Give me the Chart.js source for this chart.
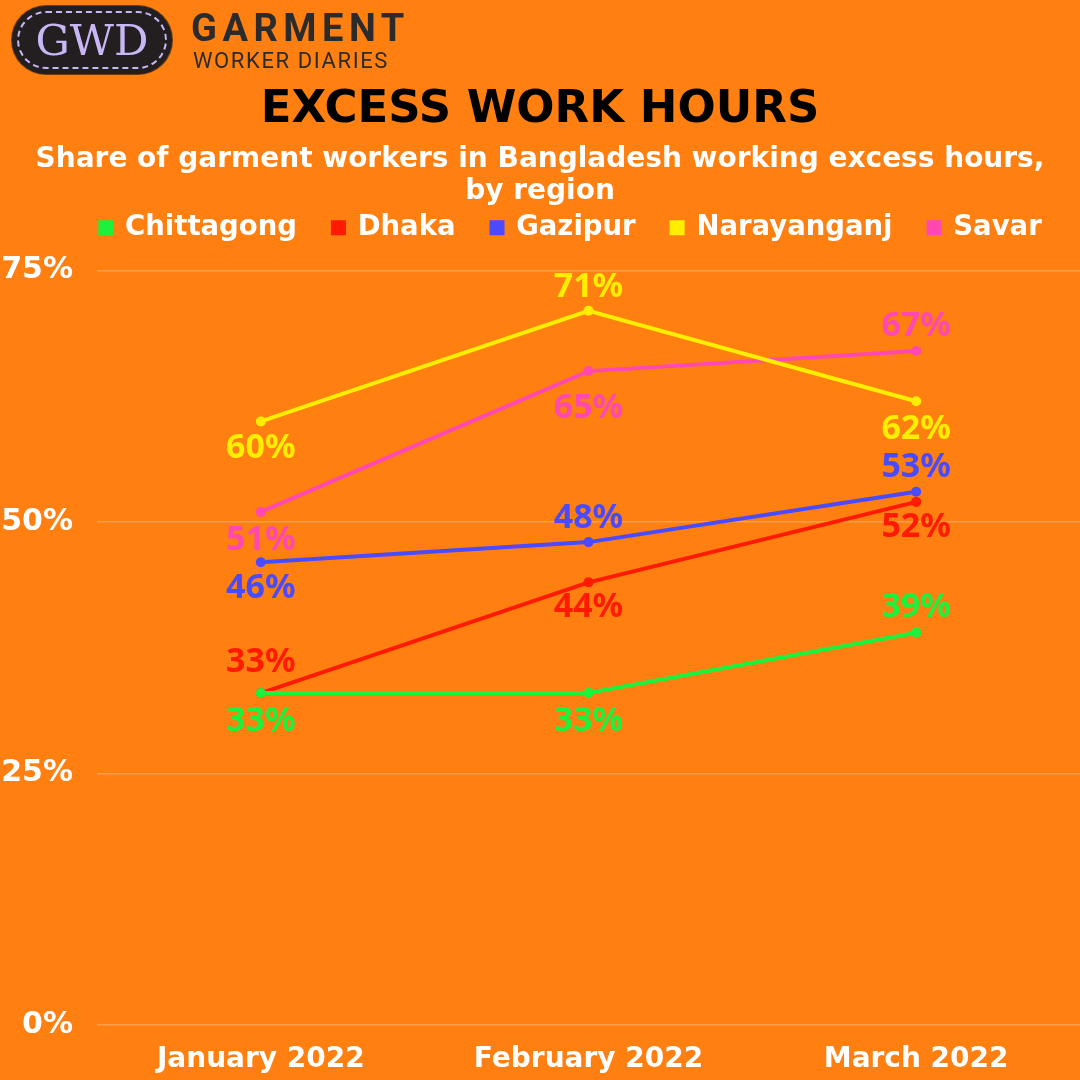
<!DOCTYPE html>
<html>
<head>
<meta charset="utf-8">
<script src="https://cdn.jsdelivr.net/npm/chart.js@4.4.1/dist/chart.umd.min.js"></script>
<style>
  html, body { margin: 0; padding: 0; background: #ff7f11; }
  #wrap { position: relative; width: 1080px; height: 1080px; overflow: hidden; background: #ff7f11; }
  #c { position: absolute; left: 0; top: 0; }
  .pill { position: absolute; left: 12px; top: 6px; width: 160px; height: 68px; border-radius: 34px;
          background: #231f20; box-shadow: 0 0 0 1px #6b3a10; }
  .pill .stitch { position: absolute; left: 5px; top: 5px; right: 5px; bottom: 5px; border-radius: 29px;
          border: 2px dashed #c9b6f5; }
  .pill .gwd { position: absolute; left: 0; right: 0; top: 0; line-height: 68px; text-align: center;
          font-family: "DejaVu Serif", serif; font-size: 43px; color: #c9b6f5; }
  .brand1 { position: absolute; left: 191px; top: 4px; font-family: Roboto, sans-serif; font-weight: 700;
          font-size: 38px; letter-spacing: 5.5px; color: #2b2b2b; line-height: 48px; }
  .brand2 { position: absolute; left: 193px; top: 47px; font-family: Roboto, sans-serif; font-weight: 400;
          font-size: 22px; letter-spacing: 1.6px; color: #2b2b2b; line-height: 28px; }
  .title { position: absolute; left: 0; width: 1080px; top: 80px; line-height: 54px; text-align: center;
          font-family: "DejaVu Sans", sans-serif; font-weight: 700; font-size: 45px; color: #000; }
  .subtitle { position: absolute; left: 0; width: 1080px; top: 142px; line-height: 32px; text-align: center;
          font-family: "DejaVu Sans", sans-serif; font-weight: 700; font-size: 28px; color: #fff; }
</style>
</head>
<body>
<div id="wrap">
  <canvas id="c" width="1080" height="1080"></canvas>
  <div class="pill"><div class="stitch"></div><div class="gwd">GWD</div></div>
  <div class="brand1">GARMENT</div>
  <div class="brand2">WORKER DIARIES</div>
  <div class="title">EXCESS WORK HOURS</div>
  <div class="subtitle">Share of garment workers in Bangladesh working excess hours,<br>by region</div>
</div>
<script>
// data
const months = ['January 2022', 'February 2022', 'March 2022'];
const regions = ['Chittagong', 'Dhaka', 'Gazipur', 'Narayanganj', 'Savar'];
const chittagong = [33, 33, 39];
const dhaka = [33, 44, 52];
const gazipur = [46, 48, 53];
const narayanganj = [60, 71, 62];
const savar = [51, 65, 67];
const yTicks = [0, 25, 50, 75];

// styling
const colors = ['#1ef03c', '#ff1a00', '#4a4aff', '#ffee00', '#ff48b0'];
// label offset from its point, px (negative = above)
const labelOffsets = [
    [28, 28, -25],
    [-31, 25, 25],
    [26, -24, -25],
    [27, -23, 28],
    [28, 37, -25]
];

const series = [chittagong, dhaka, gazipur, narayanganj, savar];

const pointLabels = {
    id: 'pointLabels',
    afterDatasetsDraw(chart) {
        const ctx = chart.ctx;
        ctx.save();
        ctx.font = "bold 34px 'Noto Sans'";
        ctx.textAlign = 'center';
        ctx.textBaseline = 'middle';
        chart.data.datasets.forEach((ds, di) => {
            const meta = chart.getDatasetMeta(di);
            meta.data.forEach((pt, i) => {
                ctx.fillStyle = ds.borderColor;
                ctx.fillText(ds.data[i] + '%', pt.x, pt.y + labelOffsets[di][i]);
            });
        });
        ctx.restore();
    }
};

// leave room between legend and plot, and nudge the legend right
const legendTweak = {
    id: 'legendTweak',
    afterInit(chart) {
        const lg = chart.legend;
        const fit = lg.fit.bind(lg);
        lg.fit = function () { fit(); this.height += 19; };
        const draw = lg.draw.bind(lg);
        lg.draw = function () {
            const c = this.ctx;
            c.save();
            c.translate(31, 0);
            draw();
            c.restore();
        };
    }
};

new Chart(document.getElementById('c'), {
    type: 'line',
    data: {
        labels: months,
        datasets: regions.map((r, i) => ({
            label: r,
            data: series[i],
            borderColor: colors[i],
            backgroundColor: colors[i],
            pointBackgroundColor: colors[i],
            pointBorderWidth: 0,
            borderWidth: 4,
            pointRadius: 5,
            tension: 0
        }))
    },
    options: {
        responsive: false,
        animation: false,
        layout: { autoPadding: false, padding: { top: 178, left: 0, right: 0, bottom: 0 } },
        plugins: {
            tooltip: { enabled: false },
            legend: {
                display: true,
                position: 'top',
                labels: {
                    color: '#fff',
                    boxWidth: 11,
                    boxHeight: 11,
                    padding: 36,
                    font: { family: 'DejaVu Sans', weight: 'bold', size: 27.5 }
                }
            }
        },
        scales: {
            x: {
                offset: true,
                grid: { display: false, drawTicks: false },
                border: { display: false },
                ticks: {
                    color: '#fff',
                    padding: 18,
                    font: { family: 'DejaVu Sans', weight: 'bold', size: 28 }
                },
                afterFit(scale) {
                    scale.height = 55;
                    scale.paddingLeft = 0;
                    scale.paddingRight = 0;
                }
            },
            y: {
                min: 0,
                max: 75,
                afterBuildTicks(scale) { scale.ticks = yTicks.map(v => ({ value: v })); },
                grid: { color: 'rgba(255,255,255,0.25)', lineWidth: 1.5, drawTicks: false },
                border: { display: false },
                ticks: {
                    color: '#fff',
                    padding: 24,
                    callback: v => v + '%',
                    font: { family: 'DejaVu Sans', weight: 'bold', size: 30 }
                },
                afterFit(scale) {
                    scale.width = 97;
                }
            }
        }
    },
    plugins: [pointLabels, legendTweak]
});
</script>
</body>
</html>
